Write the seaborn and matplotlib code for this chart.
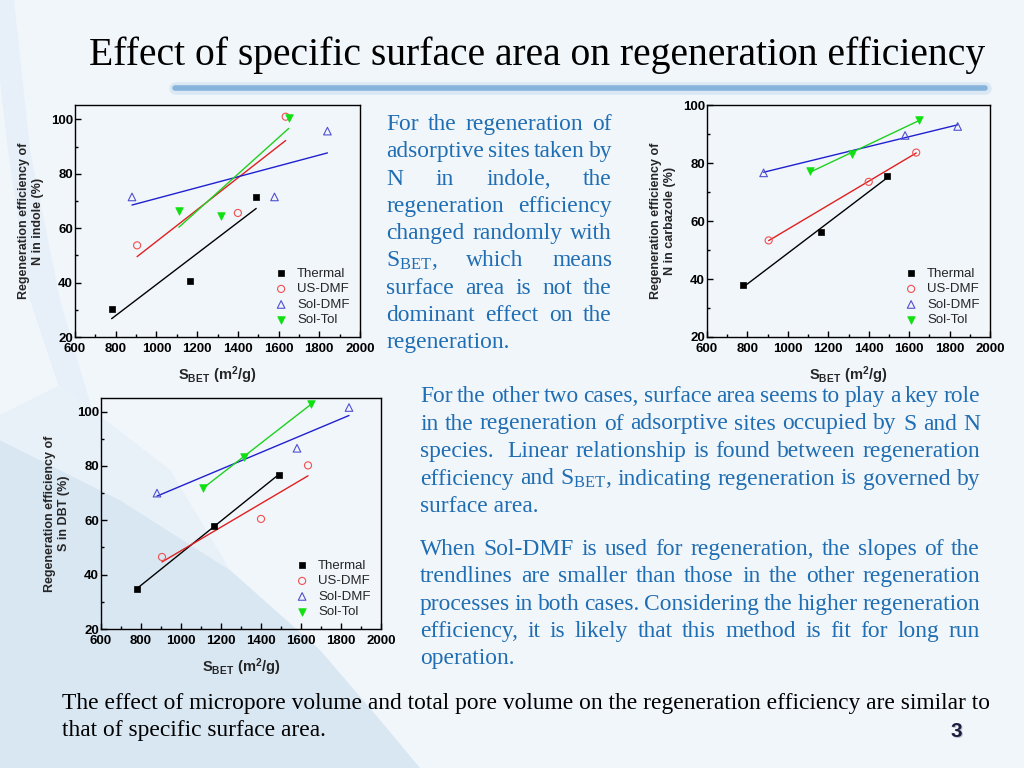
import numpy as np
import pandas as pd
import matplotlib
matplotlib.use('Agg')
import matplotlib.pyplot as plt
import seaborn as sns
from matplotlib.patches import Polygon
from matplotlib.ticker import MultipleLocator

# surface area of each adsorbent series (m2/g)
x_thermal = [780, 1165, 1490]
x_usdmf = [905, 1400, 1635]
x_soldmf = [880, 1580, 1840]
x_soltol = [1110, 1315, 1650]

# regeneration efficiency (%) - N in indole
indole_thermal = [30.4, 40.7, 71.6]
indole_usdmf = [53.7, 65.6, 101.0]
indole_soldmf = [71.5, 71.5, 95.7]
indole_soltol = [66.4, 64.4, 100.4]

# N in carbazole
carbazole_thermal = [37.9, 56.2, 75.6]
carbazole_usdmf = [53.3, 73.5, 83.6]
carbazole_soldmf = [76.6, 89.5, 92.6]
carbazole_soltol = [77.2, 83.0, 94.9]

# S in DBT
dbt_thermal = [34.8, 57.9, 76.8]
dbt_usdmf = [46.5, 60.5, 80.2]
dbt_soldmf = [70.0, 86.5, 101.5]
dbt_soltol = [72.0, 83.2, 102.8]

methods = ['Thermal', 'US-DMF', 'Sol-DMF', 'Sol-Tol']
xs = [x_thermal, x_usdmf, x_soldmf, x_soltol]

sns.set_theme(style='ticks')
plt.rcParams['font.family'] = ['Liberation Sans', 'DejaVu Sans']
plt.rcParams['mathtext.fontset'] = 'custom'
plt.rcParams['mathtext.rm'] = 'Liberation Serif'
plt.rcParams['mathtext.bf'] = 'Liberation Sans:bold'

# marker, line colour, marker colour, filled, size
styles = {
    'Thermal': ('s', 'black', 'black', True, 18),
    'US-DMF': ('o', '#e02020', '#f05050', False, 26),
    'Sol-DMF': ('^', '#2020d0', '#5050d0', False, 30),
    'Sol-Tol': ('v', '#20d020', '#10e010', True, 30),
}

fig = plt.figure(figsize=(10.24, 7.68), dpi=100)
fig.patch.set_facecolor('#f1f6fb')

bg = fig.add_axes([0, 0, 1, 1], zorder=-1)
bg.set_xlim(0, 1024)
bg.set_ylim(768, 0)
bg.axis('off')

# slide decoration
bg.add_patch(Polygon([(0, 0), (14, 0), (30, 150), (60, 300), (95, 420), (70, 420), (30, 300), (8, 150), (0, 80)],
                     closed=True, fc='#e7eff8', ec='none'))
bg.add_patch(Polygon([(0, 440), (120, 500), (230, 570), (320, 650), (380, 720), (420, 768), (0, 768)],
                     closed=True, fc='#d9e7f3', ec='none'))
bg.add_patch(Polygon([(60, 385), (170, 470), (230, 570), (120, 500), (0, 440), (0, 415)],
                     closed=True, fc='#e8f0f8', ec='none'))
bg.plot([175, 985], [88, 88], lw=9, color='#c4dbef', alpha=0.5, solid_capstyle='round')
bg.plot([175, 985], [88, 88], lw=4, color='#86b4dc', solid_capstyle='round')


def draw_panel(rect, ys, ylim, ylabel):
    ax = fig.add_axes(rect)
    ax.patch.set_alpha(0)
    for name, x, y in zip(methods, xs, ys):
        marker, lc, mc, filled, s = styles[name]
        sns.regplot(x=np.array(x, float), y=np.array(y, float), ax=ax, scatter=False, ci=None,
                    truncate=True, line_kws={'color': lc, 'lw': 1})
        if filled:
            sns.scatterplot(x=x, y=y, ax=ax, marker=marker, s=s, color=mc, edgecolor=mc,
                            linewidth=0.5, label=name, zorder=3)
        else:
            sns.scatterplot(x=x, y=y, ax=ax, marker=marker, s=s, facecolors='none', edgecolor=mc,
                            linewidth=0.8, label=name, zorder=3)
    ax.set_xlim(600, 2000)
    ax.set_ylim(*ylim)
    ax.xaxis.set_major_locator(MultipleLocator(200))
    ax.xaxis.set_minor_locator(MultipleLocator(100))
    ax.yaxis.set_major_locator(MultipleLocator(20))
    ax.yaxis.set_minor_locator(MultipleLocator(10))
    ax.tick_params(which='both', direction='in', width=1, colors='black', labelsize=9.5)
    ax.tick_params(axis='x', pad=4)
    ax.tick_params(axis='y', pad=1.5)
    ax.tick_params(which='major', length=4)
    ax.tick_params(which='minor', length=2)
    for lab in ax.get_xticklabels() + ax.get_yticklabels():
        lab.set_fontweight('bold')
    for sp in ax.spines.values():
        sp.set_color('black')
        sp.set_linewidth(1)
    ax.set_xlabel(r'$\mathbf{S_{BET}\ (m^{2}/g)}$', fontsize=10.5, labelpad=7)
    ax.set_ylabel(ylabel, fontsize=9, fontweight='bold', labelpad=5, linespacing=1.25)
    ax.legend(loc='lower right', frameon=False, fontsize=9.5, handletextpad=0.6,
              labelspacing=0.25, borderaxespad=0.4, handlelength=1.2)
    return ax


draw_panel([75 / 1024, 1 - 337 / 768, 285 / 1024, 232 / 768],
           [indole_thermal, indole_usdmf, indole_soldmf, indole_soltol], (20, 105.3),
           'Regeneration efficiency of\nN in indole (%)')
draw_panel([707 / 1024, 1 - 337 / 768, 283 / 1024, 232 / 768],
           [carbazole_thermal, carbazole_usdmf, carbazole_soldmf, carbazole_soltol], (20, 100),
           'Regeneration efficiency of\nN in carbazole (%)')
draw_panel([101 / 1024, 1 - 629 / 768, 280 / 1024, 231 / 768],
           [dbt_thermal, dbt_usdmf, dbt_soldmf, dbt_soltol], (20, 105),
           'Regeneration efficiency of\nS in DBT (%)')

renderer = fig.canvas.get_renderer()
serif = ['Liberation Serif', 'DejaVu Serif']
blue = '#1f6db2'


def fit_size(text, width, size0=20, **kw):
    t = bg.text(0, 0, text, fontsize=size0, **kw)
    w = t.get_window_extent(renderer).width
    t.remove()
    return size0 * width / w


def justified(lines, x0, x1, y0, dy, size, color):
    for i, (line, last) in enumerate(lines):
        y = y0 + i * dy
        if last:
            bg.text(x0, y, line, fontsize=size, color=color, family=serif, va='baseline')
            continue
        words = line.split(' ')
        objs = [bg.text(0, y, w, fontsize=size, color=color, family=serif, va='baseline') for w in words]
        widths = [o.get_window_extent(renderer).width for o in objs]
        gap = (x1 - x0 - sum(widths)) / (len(words) - 1)
        pos = x0
        for o, w in zip(objs, widths):
            o.set_x(pos)
            pos += w + gap


title = 'Effect of specific surface area on regeneration efficiency'
bg.text(537, 65, title, fontsize=fit_size(title, 897, family=serif), family=serif,
        ha='center', va='baseline', color='black')

bottom1 = 'The effect of micropore volume and total pore volume on the regeneration efficiency are similar to'
body_size = fit_size(bottom1, 928, family=serif)
bg.text(62, 709, bottom1, fontsize=body_size, family=serif, va='baseline', color='black')
bg.text(62, 736, 'that of specific surface area.', fontsize=body_size, family=serif,
        va='baseline', color='black')
bg.text(963, 738, '3', fontsize=15, fontweight='bold', color='#b8c2d0', va='baseline', ha='right')
bg.text(962, 737, '3', fontsize=15, fontweight='bold', color='#1c1c3c', va='baseline', ha='right')

text1 = [
    ('For the regeneration of', False),
    ('adsorptive sites taken by', False),
    ('N in indole, the', False),
    ('regeneration efficiency', False),
    ('changed randomly with', False),
    (r'S$_{\mathrm{BET}}$, which means', False),
    ('surface area is not the', False),
    ('dominant effect on the', False),
    ('regeneration.', True),
]
justified(text1, 386, 612, 130, 27.3, body_size, blue)

text2 = [
    ('For the other two cases, surface area seems to play a key role', False),
    ('in the regeneration of adsorptive sites occupied by S and N', False),
    ('species.  Linear relationship is found between regeneration', False),
    (r'efficiency and S$_{\mathrm{BET}}$, indicating regeneration is governed by', False),
    ('surface area.', True),
]
justified(text2, 420, 980, 402, 27.5, body_size, blue)

text3 = [
    ('When Sol-DMF is used for regeneration, the slopes of the', False),
    ('trendlines are smaller than those in the other regeneration', False),
    ('processes in both cases. Considering the higher regeneration', False),
    ('efficiency, it is likely that this method is fit for long run', False),
    ('operation.', True),
]
justified(text3, 420, 980, 555, 27.3, body_size, blue)

fig.savefig('out.png', dpi=100, facecolor=fig.get_facecolor())
